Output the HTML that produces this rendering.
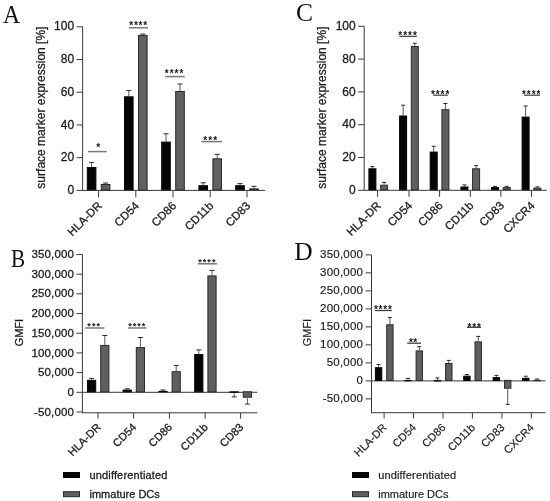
<!DOCTYPE html>
<html><head><meta charset="utf-8"><title>Figure</title>
<style>
html,body{margin:0;padding:0;background:#fff;}
body{width:550px;height:501px;overflow:hidden;}
svg{display:block;}
</style></head>
<body>
<svg width="550" height="501" viewBox="0 0 550 501">
<rect width="550" height="501" fill="#fff"/>
<line x1="82.6" y1="26.8" x2="82.6" y2="190.9" stroke="#3a3a3a" stroke-width="1"/>
<line x1="76.6" y1="190.4" x2="82.6" y2="190.4" stroke="#3a3a3a" stroke-width="1"/>
<text x="74.1" y="194" font-family='"Liberation Sans", Arial, sans-serif' font-size="12" text-anchor="end" fill="#1e1e1e" stroke="#1e1e1e" stroke-width="0.3">0</text>
<line x1="76.6" y1="157.68" x2="82.6" y2="157.68" stroke="#3a3a3a" stroke-width="1"/>
<text x="74.1" y="161.28" font-family='"Liberation Sans", Arial, sans-serif' font-size="12" text-anchor="end" fill="#1e1e1e" stroke="#1e1e1e" stroke-width="0.3">20</text>
<line x1="76.6" y1="124.96" x2="82.6" y2="124.96" stroke="#3a3a3a" stroke-width="1"/>
<text x="74.1" y="128.56" font-family='"Liberation Sans", Arial, sans-serif' font-size="12" text-anchor="end" fill="#1e1e1e" stroke="#1e1e1e" stroke-width="0.3">40</text>
<line x1="76.6" y1="92.24" x2="82.6" y2="92.24" stroke="#3a3a3a" stroke-width="1"/>
<text x="74.1" y="95.84" font-family='"Liberation Sans", Arial, sans-serif' font-size="12" text-anchor="end" fill="#1e1e1e" stroke="#1e1e1e" stroke-width="0.3">60</text>
<line x1="76.6" y1="59.52" x2="82.6" y2="59.52" stroke="#3a3a3a" stroke-width="1"/>
<text x="74.1" y="63.12" font-family='"Liberation Sans", Arial, sans-serif' font-size="12" text-anchor="end" fill="#1e1e1e" stroke="#1e1e1e" stroke-width="0.3">80</text>
<line x1="76.6" y1="26.8" x2="82.6" y2="26.8" stroke="#3a3a3a" stroke-width="1"/>
<text x="74.1" y="30.4" font-family='"Liberation Sans", Arial, sans-serif' font-size="12" text-anchor="end" fill="#1e1e1e" stroke="#1e1e1e" stroke-width="0.3">100</text>
<line x1="82.6" y1="190.4" x2="265" y2="190.4" stroke="#3a3a3a" stroke-width="1"/>
<line x1="98.6" y1="190.4" x2="98.6" y2="197.4" stroke="#3a3a3a" stroke-width="1"/>
<text x="102.6" y="206.4" font-family='"Liberation Sans", Arial, sans-serif' font-size="11.5" text-anchor="end" fill="#1e1e1e" stroke="#1e1e1e" stroke-width="0.3" transform="rotate(-45 102.6 206.4)">HLA-DR</text>
<line x1="135.8" y1="190.4" x2="135.8" y2="197.4" stroke="#3a3a3a" stroke-width="1"/>
<text x="139.8" y="206.4" font-family='"Liberation Sans", Arial, sans-serif' font-size="11.5" text-anchor="end" fill="#1e1e1e" stroke="#1e1e1e" stroke-width="0.3" transform="rotate(-45 139.8 206.4)">CD54</text>
<line x1="173" y1="190.4" x2="173" y2="197.4" stroke="#3a3a3a" stroke-width="1"/>
<text x="177" y="206.4" font-family='"Liberation Sans", Arial, sans-serif' font-size="11.5" text-anchor="end" fill="#1e1e1e" stroke="#1e1e1e" stroke-width="0.3" transform="rotate(-45 177 206.4)">CD86</text>
<line x1="210.2" y1="190.4" x2="210.2" y2="197.4" stroke="#3a3a3a" stroke-width="1"/>
<text x="214.2" y="206.4" font-family='"Liberation Sans", Arial, sans-serif' font-size="11.5" text-anchor="end" fill="#1e1e1e" stroke="#1e1e1e" stroke-width="0.3" transform="rotate(-45 214.2 206.4)">CD11b</text>
<line x1="247" y1="190.4" x2="247" y2="197.4" stroke="#3a3a3a" stroke-width="1"/>
<text x="251" y="206.4" font-family='"Liberation Sans", Arial, sans-serif' font-size="11.5" text-anchor="end" fill="#1e1e1e" stroke="#1e1e1e" stroke-width="0.3" transform="rotate(-45 251 206.4)">CD83</text>
<line x1="91.6" y1="167" x2="91.6" y2="162.4" stroke="#5a5a5a" stroke-width="1"/>
<line x1="89.1" y1="162.4" x2="94.1" y2="162.4" stroke="#2a2a2a" stroke-width="1"/>
<rect x="87.3" y="167.5" width="8.6" height="22.4" fill="#050505" stroke="#050505" stroke-width="1"/>
<line x1="105.6" y1="184" x2="105.6" y2="183" stroke="#5a5a5a" stroke-width="1"/>
<line x1="103.1" y1="183" x2="108.1" y2="183" stroke="#2a2a2a" stroke-width="1"/>
<rect x="101.3" y="184.5" width="8.6" height="5.4" fill="#606060" stroke="#2a2a2a" stroke-width="1"/>
<line x1="128.8" y1="96.3" x2="128.8" y2="90.4" stroke="#5a5a5a" stroke-width="1"/>
<line x1="126.3" y1="90.4" x2="131.3" y2="90.4" stroke="#2a2a2a" stroke-width="1"/>
<rect x="124.5" y="96.8" width="8.6" height="93.1" fill="#050505" stroke="#050505" stroke-width="1"/>
<line x1="142.8" y1="34.9" x2="142.8" y2="34" stroke="#5a5a5a" stroke-width="1"/>
<line x1="140.3" y1="34" x2="145.3" y2="34" stroke="#2a2a2a" stroke-width="1"/>
<rect x="138.5" y="35.4" width="8.6" height="154.5" fill="#606060" stroke="#2a2a2a" stroke-width="1"/>
<line x1="166" y1="141.6" x2="166" y2="133.8" stroke="#5a5a5a" stroke-width="1"/>
<line x1="163.5" y1="133.8" x2="168.5" y2="133.8" stroke="#2a2a2a" stroke-width="1"/>
<rect x="161.7" y="142.1" width="8.6" height="47.8" fill="#050505" stroke="#050505" stroke-width="1"/>
<line x1="180" y1="91" x2="180" y2="84" stroke="#5a5a5a" stroke-width="1"/>
<line x1="177.5" y1="84" x2="182.5" y2="84" stroke="#2a2a2a" stroke-width="1"/>
<rect x="175.7" y="91.5" width="8.6" height="98.4" fill="#606060" stroke="#2a2a2a" stroke-width="1"/>
<line x1="203.2" y1="185.2" x2="203.2" y2="182.8" stroke="#5a5a5a" stroke-width="1"/>
<line x1="200.7" y1="182.8" x2="205.7" y2="182.8" stroke="#2a2a2a" stroke-width="1"/>
<rect x="198.9" y="185.7" width="8.6" height="4.2" fill="#050505" stroke="#050505" stroke-width="1"/>
<line x1="217.2" y1="158.3" x2="217.2" y2="154.3" stroke="#5a5a5a" stroke-width="1"/>
<line x1="214.7" y1="154.3" x2="219.7" y2="154.3" stroke="#2a2a2a" stroke-width="1"/>
<rect x="212.9" y="158.8" width="8.6" height="31.1" fill="#606060" stroke="#2a2a2a" stroke-width="1"/>
<line x1="240" y1="185.2" x2="240" y2="183.6" stroke="#5a5a5a" stroke-width="1"/>
<line x1="237.5" y1="183.6" x2="242.5" y2="183.6" stroke="#2a2a2a" stroke-width="1"/>
<rect x="235.7" y="185.7" width="8.6" height="4.2" fill="#050505" stroke="#050505" stroke-width="1"/>
<line x1="254" y1="188.4" x2="254" y2="186.3" stroke="#5a5a5a" stroke-width="1"/>
<line x1="251.5" y1="186.3" x2="256.5" y2="186.3" stroke="#2a2a2a" stroke-width="1"/>
<rect x="249.7" y="188.9" width="8.6" height="1" fill="#606060" stroke="#2a2a2a" stroke-width="1"/>
<line x1="88" y1="151.6" x2="106.8" y2="151.6" stroke="#7a7a7a" stroke-width="1.5"/>
<text x="98.15" y="151.3" font-family='"Liberation Sans", Arial, sans-serif' font-weight="bold" font-size="10" text-anchor="middle" fill="#141414">*</text>
<line x1="129" y1="27.8" x2="148" y2="27.8" stroke="#7a7a7a" stroke-width="1.5"/>
<text x="131.19 135.86 140.53 145.2" y="28.6" font-family='"Liberation Sans", Arial, sans-serif' font-weight="bold" font-size="10" text-anchor="middle" fill="#141414">****</text>
<line x1="165.2" y1="76.6" x2="184.8" y2="76.6" stroke="#7a7a7a" stroke-width="1.5"/>
<text x="166.79 171.66 176.53 181.41" y="77.4" font-family='"Liberation Sans", Arial, sans-serif' font-weight="bold" font-size="10" text-anchor="middle" fill="#141414">****</text>
<line x1="201.5" y1="141.6" x2="221.9" y2="141.6" stroke="#7a7a7a" stroke-width="1.5"/>
<text x="205.3 210.3 215.3" y="144.1" font-family='"Liberation Sans", Arial, sans-serif' font-weight="bold" font-size="10" text-anchor="middle" fill="#141414">***</text>
<text x="44.9" y="107.6" font-family='"Liberation Sans", Arial, sans-serif' font-size="12" text-anchor="middle" fill="#1e1e1e" stroke="#1e1e1e" stroke-width="0.3" transform="rotate(-90 44.9 107.6)">surface marker expression [%]</text>
<text transform="translate(2.9 22.9) scale(0.93 1)" x="0" y="0" font-family='"Liberation Serif", "Times New Roman", serif' font-size="25.5" fill="#111">A</text>
<line x1="82.4" y1="254.47" x2="82.4" y2="413.3" stroke="#3a3a3a" stroke-width="1"/>
<line x1="76.4" y1="411.99" x2="82.4" y2="411.99" stroke="#3a3a3a" stroke-width="1"/>
<text x="74.03" y="415.59" font-family='"Liberation Sans", Arial, sans-serif' font-size="11.5" text-anchor="end" fill="#1e1e1e" stroke="#1e1e1e" stroke-width="0.3" letter-spacing="0.13">-50,000</text>
<line x1="76.4" y1="392.3" x2="82.4" y2="392.3" stroke="#3a3a3a" stroke-width="1"/>
<text x="74.03" y="395.9" font-family='"Liberation Sans", Arial, sans-serif' font-size="11.5" text-anchor="end" fill="#1e1e1e" stroke="#1e1e1e" stroke-width="0.3" letter-spacing="0.13">0</text>
<line x1="76.4" y1="372.61" x2="82.4" y2="372.61" stroke="#3a3a3a" stroke-width="1"/>
<text x="74.03" y="376.21" font-family='"Liberation Sans", Arial, sans-serif' font-size="11.5" text-anchor="end" fill="#1e1e1e" stroke="#1e1e1e" stroke-width="0.3" letter-spacing="0.13">50,000</text>
<line x1="76.4" y1="352.92" x2="82.4" y2="352.92" stroke="#3a3a3a" stroke-width="1"/>
<text x="74.03" y="356.52" font-family='"Liberation Sans", Arial, sans-serif' font-size="11.5" text-anchor="end" fill="#1e1e1e" stroke="#1e1e1e" stroke-width="0.3" letter-spacing="0.13">100,000</text>
<line x1="76.4" y1="333.23" x2="82.4" y2="333.23" stroke="#3a3a3a" stroke-width="1"/>
<text x="74.03" y="336.83" font-family='"Liberation Sans", Arial, sans-serif' font-size="11.5" text-anchor="end" fill="#1e1e1e" stroke="#1e1e1e" stroke-width="0.3" letter-spacing="0.13">150,000</text>
<line x1="76.4" y1="313.54" x2="82.4" y2="313.54" stroke="#3a3a3a" stroke-width="1"/>
<text x="74.03" y="317.14" font-family='"Liberation Sans", Arial, sans-serif' font-size="11.5" text-anchor="end" fill="#1e1e1e" stroke="#1e1e1e" stroke-width="0.3" letter-spacing="0.13">200,000</text>
<line x1="76.4" y1="293.85" x2="82.4" y2="293.85" stroke="#3a3a3a" stroke-width="1"/>
<text x="74.03" y="297.45" font-family='"Liberation Sans", Arial, sans-serif' font-size="11.5" text-anchor="end" fill="#1e1e1e" stroke="#1e1e1e" stroke-width="0.3" letter-spacing="0.13">250,000</text>
<line x1="76.4" y1="274.16" x2="82.4" y2="274.16" stroke="#3a3a3a" stroke-width="1"/>
<text x="74.03" y="277.76" font-family='"Liberation Sans", Arial, sans-serif' font-size="11.5" text-anchor="end" fill="#1e1e1e" stroke="#1e1e1e" stroke-width="0.3" letter-spacing="0.13">300,000</text>
<line x1="76.4" y1="254.47" x2="82.4" y2="254.47" stroke="#3a3a3a" stroke-width="1"/>
<text x="74.03" y="258.07" font-family='"Liberation Sans", Arial, sans-serif' font-size="11.5" text-anchor="end" fill="#1e1e1e" stroke="#1e1e1e" stroke-width="0.3" letter-spacing="0.13">350,000</text>
<line x1="82.4" y1="392.3" x2="257.2" y2="392.3" stroke="#3a3a3a" stroke-width="1"/>
<line x1="82.4" y1="412.8" x2="257.2" y2="412.8" stroke="#3a3a3a" stroke-width="1"/>
<line x1="98" y1="412.8" x2="98" y2="418.6" stroke="#3a3a3a" stroke-width="1"/>
<text x="101.5" y="427.8" font-family='"Liberation Sans", Arial, sans-serif' font-size="11" text-anchor="end" fill="#1e1e1e" stroke="#1e1e1e" stroke-width="0.3" transform="rotate(-45 101.5 427.8)">HLA-DR</text>
<line x1="133.6" y1="412.8" x2="133.6" y2="418.6" stroke="#3a3a3a" stroke-width="1"/>
<text x="137.1" y="427.8" font-family='"Liberation Sans", Arial, sans-serif' font-size="11" text-anchor="end" fill="#1e1e1e" stroke="#1e1e1e" stroke-width="0.3" transform="rotate(-45 137.1 427.8)">CD54</text>
<line x1="169.4" y1="412.8" x2="169.4" y2="418.6" stroke="#3a3a3a" stroke-width="1"/>
<text x="172.9" y="427.8" font-family='"Liberation Sans", Arial, sans-serif' font-size="11" text-anchor="end" fill="#1e1e1e" stroke="#1e1e1e" stroke-width="0.3" transform="rotate(-45 172.9 427.8)">CD86</text>
<line x1="205.2" y1="412.8" x2="205.2" y2="418.6" stroke="#3a3a3a" stroke-width="1"/>
<text x="208.7" y="427.8" font-family='"Liberation Sans", Arial, sans-serif' font-size="11" text-anchor="end" fill="#1e1e1e" stroke="#1e1e1e" stroke-width="0.3" transform="rotate(-45 208.7 427.8)">CD11b</text>
<line x1="240.6" y1="412.8" x2="240.6" y2="418.6" stroke="#3a3a3a" stroke-width="1"/>
<text x="244.1" y="427.8" font-family='"Liberation Sans", Arial, sans-serif' font-size="11" text-anchor="end" fill="#1e1e1e" stroke="#1e1e1e" stroke-width="0.3" transform="rotate(-45 244.1 427.8)">CD83</text>
<line x1="91.6" y1="379.8" x2="91.6" y2="378.4" stroke="#5a5a5a" stroke-width="1"/>
<line x1="89.1" y1="378.4" x2="94.1" y2="378.4" stroke="#2a2a2a" stroke-width="1"/>
<rect x="87.5" y="380.3" width="8.2" height="11.5" fill="#050505" stroke="#050505" stroke-width="1"/>
<line x1="104.8" y1="344.9" x2="104.8" y2="335.5" stroke="#5a5a5a" stroke-width="1"/>
<line x1="102.3" y1="335.5" x2="107.3" y2="335.5" stroke="#2a2a2a" stroke-width="1"/>
<rect x="100.7" y="345.4" width="8.2" height="46.4" fill="#606060" stroke="#2a2a2a" stroke-width="1"/>
<line x1="127.2" y1="389.6" x2="127.2" y2="388.8" stroke="#5a5a5a" stroke-width="1"/>
<line x1="124.7" y1="388.8" x2="129.7" y2="388.8" stroke="#2a2a2a" stroke-width="1"/>
<rect x="123.1" y="390.1" width="8.2" height="1.7" fill="#050505" stroke="#050505" stroke-width="1"/>
<line x1="140.4" y1="347.1" x2="140.4" y2="337.5" stroke="#5a5a5a" stroke-width="1"/>
<line x1="137.9" y1="337.5" x2="142.9" y2="337.5" stroke="#2a2a2a" stroke-width="1"/>
<rect x="136.3" y="347.6" width="8.2" height="44.2" fill="#606060" stroke="#2a2a2a" stroke-width="1"/>
<line x1="163" y1="390.9" x2="163" y2="390" stroke="#5a5a5a" stroke-width="1"/>
<line x1="160.5" y1="390" x2="165.5" y2="390" stroke="#2a2a2a" stroke-width="1"/>
<rect x="158.9" y="391.4" width="8.2" height="0.4" fill="#050505" stroke="#050505" stroke-width="1"/>
<line x1="176.2" y1="371.2" x2="176.2" y2="365.4" stroke="#5a5a5a" stroke-width="1"/>
<line x1="173.7" y1="365.4" x2="178.7" y2="365.4" stroke="#2a2a2a" stroke-width="1"/>
<rect x="172.1" y="371.7" width="8.2" height="20.1" fill="#606060" stroke="#2a2a2a" stroke-width="1"/>
<line x1="198.8" y1="354.1" x2="198.8" y2="349.9" stroke="#5a5a5a" stroke-width="1"/>
<line x1="196.3" y1="349.9" x2="201.3" y2="349.9" stroke="#2a2a2a" stroke-width="1"/>
<rect x="194.7" y="354.6" width="8.2" height="37.2" fill="#050505" stroke="#050505" stroke-width="1"/>
<line x1="212" y1="275.4" x2="212" y2="270.4" stroke="#5a5a5a" stroke-width="1"/>
<line x1="209.5" y1="270.4" x2="214.5" y2="270.4" stroke="#2a2a2a" stroke-width="1"/>
<rect x="207.9" y="275.9" width="8.2" height="115.9" fill="#606060" stroke="#2a2a2a" stroke-width="1"/>
<line x1="234.2" y1="393.3" x2="234.2" y2="396.9" stroke="#5a5a5a" stroke-width="1"/>
<line x1="231.7" y1="396.9" x2="236.7" y2="396.9" stroke="#2a2a2a" stroke-width="1"/>
<rect x="230.1" y="391.8" width="8.2" height="0.5" fill="#050505" stroke="#050505" stroke-width="1"/>
<line x1="247.4" y1="398.2" x2="247.4" y2="404.1" stroke="#5a5a5a" stroke-width="1"/>
<line x1="244.9" y1="404.1" x2="249.9" y2="404.1" stroke="#2a2a2a" stroke-width="1"/>
<rect x="243.3" y="391.8" width="8.2" height="5.4" fill="#606060" stroke="#2a2a2a" stroke-width="1"/>
<line x1="85.2" y1="328" x2="104.4" y2="328" stroke="#7a7a7a" stroke-width="1.5"/>
<text x="89.1 93.65 98.2" y="329.44" font-family='"Liberation Sans", Arial, sans-serif' font-weight="bold" font-size="9" text-anchor="middle" fill="#141414">***</text>
<line x1="128.1" y1="328" x2="146.4" y2="328" stroke="#7a7a7a" stroke-width="1.5"/>
<text x="129.9 134.47 139.03 143.6" y="329.34" font-family='"Liberation Sans", Arial, sans-serif' font-weight="bold" font-size="9" text-anchor="middle" fill="#141414">****</text>
<line x1="198" y1="263.8" x2="217.1" y2="263.8" stroke="#7a7a7a" stroke-width="1.5"/>
<text x="200 204.56 209.13 213.7" y="265.44" font-family='"Liberation Sans", Arial, sans-serif' font-weight="bold" font-size="9" text-anchor="middle" fill="#141414">****</text>
<text x="22.8" y="332.6" font-family='"Liberation Sans", Arial, sans-serif' font-size="11" text-anchor="middle" fill="#1e1e1e" stroke="#1e1e1e" stroke-width="0.3" transform="rotate(-90 22.8 332.6)">GMFI</text>
<text transform="translate(11 266.6) scale(0.85 1)" x="0" y="0" font-family='"Liberation Serif", "Times New Roman", serif' font-size="25" fill="#111">B</text>
<rect x="63" y="472" width="17" height="6" fill="#050505"/>
<rect x="63.5" y="491.7" width="16" height="5" fill="#606060" stroke="#2a2a2a" stroke-width="1"/>
<text x="89.5" y="478.5" font-family='"Liberation Sans", Arial, sans-serif' font-size="11" text-anchor="start" fill="#1e1e1e" stroke="#1e1e1e" stroke-width="0.3" letter-spacing="0.15">undifferentiated</text>
<text x="89.5" y="497.7" font-family='"Liberation Sans", Arial, sans-serif' font-size="11" text-anchor="start" fill="#1e1e1e" stroke="#1e1e1e" stroke-width="0.3">immature DCs</text>
<line x1="364.2" y1="26.3" x2="364.2" y2="190.8" stroke="#3a3a3a" stroke-width="1"/>
<line x1="358.2" y1="190.3" x2="364.2" y2="190.3" stroke="#3a3a3a" stroke-width="1"/>
<text x="355.7" y="193.9" font-family='"Liberation Sans", Arial, sans-serif' font-size="12" text-anchor="end" fill="#1e1e1e" stroke="#1e1e1e" stroke-width="0.3">0</text>
<line x1="358.2" y1="157.5" x2="364.2" y2="157.5" stroke="#3a3a3a" stroke-width="1"/>
<text x="355.7" y="161.1" font-family='"Liberation Sans", Arial, sans-serif' font-size="12" text-anchor="end" fill="#1e1e1e" stroke="#1e1e1e" stroke-width="0.3">20</text>
<line x1="358.2" y1="124.7" x2="364.2" y2="124.7" stroke="#3a3a3a" stroke-width="1"/>
<text x="355.7" y="128.3" font-family='"Liberation Sans", Arial, sans-serif' font-size="12" text-anchor="end" fill="#1e1e1e" stroke="#1e1e1e" stroke-width="0.3">40</text>
<line x1="358.2" y1="91.9" x2="364.2" y2="91.9" stroke="#3a3a3a" stroke-width="1"/>
<text x="355.7" y="95.5" font-family='"Liberation Sans", Arial, sans-serif' font-size="12" text-anchor="end" fill="#1e1e1e" stroke="#1e1e1e" stroke-width="0.3">60</text>
<line x1="358.2" y1="59.1" x2="364.2" y2="59.1" stroke="#3a3a3a" stroke-width="1"/>
<text x="355.7" y="62.7" font-family='"Liberation Sans", Arial, sans-serif' font-size="12" text-anchor="end" fill="#1e1e1e" stroke="#1e1e1e" stroke-width="0.3">80</text>
<line x1="358.2" y1="26.3" x2="364.2" y2="26.3" stroke="#3a3a3a" stroke-width="1"/>
<text x="355.7" y="29.9" font-family='"Liberation Sans", Arial, sans-serif' font-size="12" text-anchor="end" fill="#1e1e1e" stroke="#1e1e1e" stroke-width="0.3">100</text>
<line x1="364.2" y1="190.3" x2="546.7" y2="190.3" stroke="#3a3a3a" stroke-width="1"/>
<line x1="377.6" y1="190.3" x2="377.6" y2="196.8" stroke="#3a3a3a" stroke-width="1"/>
<text x="381.6" y="206.3" font-family='"Liberation Sans", Arial, sans-serif' font-size="11.5" text-anchor="end" fill="#1e1e1e" stroke="#1e1e1e" stroke-width="0.3" transform="rotate(-45 381.6 206.3)">HLA-DR</text>
<line x1="409" y1="190.3" x2="409" y2="196.8" stroke="#3a3a3a" stroke-width="1"/>
<text x="413" y="206.3" font-family='"Liberation Sans", Arial, sans-serif' font-size="11.5" text-anchor="end" fill="#1e1e1e" stroke="#1e1e1e" stroke-width="0.3" transform="rotate(-45 413 206.3)">CD54</text>
<line x1="439.6" y1="190.3" x2="439.6" y2="196.8" stroke="#3a3a3a" stroke-width="1"/>
<text x="443.6" y="206.3" font-family='"Liberation Sans", Arial, sans-serif' font-size="11.5" text-anchor="end" fill="#1e1e1e" stroke="#1e1e1e" stroke-width="0.3" transform="rotate(-45 443.6 206.3)">CD86</text>
<line x1="470.3" y1="190.3" x2="470.3" y2="196.8" stroke="#3a3a3a" stroke-width="1"/>
<text x="474.3" y="206.3" font-family='"Liberation Sans", Arial, sans-serif' font-size="11.5" text-anchor="end" fill="#1e1e1e" stroke="#1e1e1e" stroke-width="0.3" transform="rotate(-45 474.3 206.3)">CD11b</text>
<line x1="500.9" y1="190.3" x2="500.9" y2="196.8" stroke="#3a3a3a" stroke-width="1"/>
<text x="504.9" y="206.3" font-family='"Liberation Sans", Arial, sans-serif' font-size="11.5" text-anchor="end" fill="#1e1e1e" stroke="#1e1e1e" stroke-width="0.3" transform="rotate(-45 504.9 206.3)">CD83</text>
<line x1="531.5" y1="190.3" x2="531.5" y2="196.8" stroke="#3a3a3a" stroke-width="1"/>
<text x="535.5" y="206.3" font-family='"Liberation Sans", Arial, sans-serif' font-size="11.5" text-anchor="end" fill="#1e1e1e" stroke="#1e1e1e" stroke-width="0.3" transform="rotate(-45 535.5 206.3)">CXCR4</text>
<line x1="372.4" y1="168.3" x2="372.4" y2="166.6" stroke="#5a5a5a" stroke-width="1"/>
<line x1="370.4" y1="166.6" x2="374.4" y2="166.6" stroke="#2a2a2a" stroke-width="1"/>
<rect x="368.9" y="168.8" width="7" height="21" fill="#050505" stroke="#050505" stroke-width="1"/>
<line x1="384.1" y1="184.7" x2="384.1" y2="182.4" stroke="#5a5a5a" stroke-width="1"/>
<line x1="382.1" y1="182.4" x2="386.1" y2="182.4" stroke="#2a2a2a" stroke-width="1"/>
<rect x="380.6" y="185.2" width="7" height="4.6" fill="#606060" stroke="#2a2a2a" stroke-width="1"/>
<line x1="403.1" y1="115.5" x2="403.1" y2="105.2" stroke="#5a5a5a" stroke-width="1"/>
<line x1="401.1" y1="105.2" x2="405.1" y2="105.2" stroke="#2a2a2a" stroke-width="1"/>
<rect x="399.6" y="116" width="7" height="73.8" fill="#050505" stroke="#050505" stroke-width="1"/>
<line x1="414.8" y1="46" x2="414.8" y2="43.3" stroke="#5a5a5a" stroke-width="1"/>
<line x1="412.8" y1="43.3" x2="416.8" y2="43.3" stroke="#2a2a2a" stroke-width="1"/>
<rect x="411.3" y="46.5" width="7" height="143.3" fill="#606060" stroke="#2a2a2a" stroke-width="1"/>
<line x1="433.7" y1="151.6" x2="433.7" y2="146.3" stroke="#5a5a5a" stroke-width="1"/>
<line x1="431.7" y1="146.3" x2="435.7" y2="146.3" stroke="#2a2a2a" stroke-width="1"/>
<rect x="430.2" y="152.1" width="7" height="37.7" fill="#050505" stroke="#050505" stroke-width="1"/>
<line x1="445.4" y1="109.2" x2="445.4" y2="103.5" stroke="#5a5a5a" stroke-width="1"/>
<line x1="443.4" y1="103.5" x2="447.4" y2="103.5" stroke="#2a2a2a" stroke-width="1"/>
<rect x="441.9" y="109.7" width="7" height="80.1" fill="#606060" stroke="#2a2a2a" stroke-width="1"/>
<line x1="464.4" y1="186.5" x2="464.4" y2="184.9" stroke="#5a5a5a" stroke-width="1"/>
<line x1="462.4" y1="184.9" x2="466.4" y2="184.9" stroke="#2a2a2a" stroke-width="1"/>
<rect x="460.9" y="187" width="7" height="2.8" fill="#050505" stroke="#050505" stroke-width="1"/>
<line x1="476.1" y1="168.3" x2="476.1" y2="165.6" stroke="#5a5a5a" stroke-width="1"/>
<line x1="474.1" y1="165.6" x2="478.1" y2="165.6" stroke="#2a2a2a" stroke-width="1"/>
<rect x="472.6" y="168.8" width="7" height="21" fill="#606060" stroke="#2a2a2a" stroke-width="1"/>
<line x1="495" y1="187.1" x2="495" y2="186.4" stroke="#5a5a5a" stroke-width="1"/>
<line x1="493" y1="186.4" x2="497" y2="186.4" stroke="#2a2a2a" stroke-width="1"/>
<rect x="491.5" y="187.6" width="7" height="2.2" fill="#050505" stroke="#050505" stroke-width="1"/>
<line x1="506.7" y1="187.1" x2="506.7" y2="186.3" stroke="#5a5a5a" stroke-width="1"/>
<line x1="504.7" y1="186.3" x2="508.7" y2="186.3" stroke="#2a2a2a" stroke-width="1"/>
<rect x="503.2" y="187.6" width="7" height="2.2" fill="#606060" stroke="#2a2a2a" stroke-width="1"/>
<line x1="525.6" y1="116.6" x2="525.6" y2="106" stroke="#5a5a5a" stroke-width="1"/>
<line x1="523.6" y1="106" x2="527.6" y2="106" stroke="#2a2a2a" stroke-width="1"/>
<rect x="522.1" y="117.1" width="7" height="72.7" fill="#050505" stroke="#050505" stroke-width="1"/>
<line x1="537.3" y1="187.6" x2="537.3" y2="186.8" stroke="#5a5a5a" stroke-width="1"/>
<line x1="535.3" y1="186.8" x2="539.3" y2="186.8" stroke="#2a2a2a" stroke-width="1"/>
<rect x="533.8" y="188.1" width="7" height="1.7" fill="#606060" stroke="#2a2a2a" stroke-width="1"/>
<line x1="399.3" y1="36.4" x2="416.9" y2="36.4" stroke="#4a4a4a" stroke-width="1.3"/>
<text x="400.3 405.17 410.04 414.91" y="39" font-family='"Liberation Sans", Arial, sans-serif' font-weight="bold" font-size="10" text-anchor="middle" fill="#141414">****</text>
<line x1="433.1" y1="95.2" x2="447.9" y2="95.2" stroke="#4a4a4a" stroke-width="1.3"/>
<text x="432.9 437.73 442.56 447.39" y="98" font-family='"Liberation Sans", Arial, sans-serif' font-weight="bold" font-size="10" text-anchor="middle" fill="#141414">****</text>
<line x1="524" y1="95.2" x2="540" y2="95.2" stroke="#4a4a4a" stroke-width="1.3"/>
<text x="524 528.8 533.6 538.4" y="98" font-family='"Liberation Sans", Arial, sans-serif' font-weight="bold" font-size="10" text-anchor="middle" fill="#141414">****</text>
<text x="326" y="107.6" font-family='"Liberation Sans", Arial, sans-serif' font-size="12" text-anchor="middle" fill="#1e1e1e" stroke="#1e1e1e" stroke-width="0.3" transform="rotate(-90 326 107.6)">surface marker expression [%]</text>
<text x="296" y="20.6" font-family='"Liberation Serif", "Times New Roman", serif' font-size="25.5" text-anchor="start" fill="#111">C</text>
<line x1="371.5" y1="254.9" x2="371.5" y2="413.2" stroke="#3a3a3a" stroke-width="1"/>
<line x1="365.5" y1="398.9" x2="371.5" y2="398.9" stroke="#3a3a3a" stroke-width="1"/>
<text x="363.22" y="402.3" font-family='"Liberation Sans", Arial, sans-serif' font-size="11.5" text-anchor="end" fill="#1e1e1e" stroke="#1e1e1e" stroke-width="0.18" letter-spacing="0.22">-50,000</text>
<line x1="365.5" y1="380.9" x2="371.5" y2="380.9" stroke="#3a3a3a" stroke-width="1"/>
<text x="363.22" y="384.3" font-family='"Liberation Sans", Arial, sans-serif' font-size="11.5" text-anchor="end" fill="#1e1e1e" stroke="#1e1e1e" stroke-width="0.18" letter-spacing="0.22">0</text>
<line x1="365.5" y1="362.9" x2="371.5" y2="362.9" stroke="#3a3a3a" stroke-width="1"/>
<text x="363.22" y="366.3" font-family='"Liberation Sans", Arial, sans-serif' font-size="11.5" text-anchor="end" fill="#1e1e1e" stroke="#1e1e1e" stroke-width="0.18" letter-spacing="0.22">50,000</text>
<line x1="365.5" y1="344.9" x2="371.5" y2="344.9" stroke="#3a3a3a" stroke-width="1"/>
<text x="363.22" y="348.3" font-family='"Liberation Sans", Arial, sans-serif' font-size="11.5" text-anchor="end" fill="#1e1e1e" stroke="#1e1e1e" stroke-width="0.18" letter-spacing="0.22">100,000</text>
<line x1="365.5" y1="326.9" x2="371.5" y2="326.9" stroke="#3a3a3a" stroke-width="1"/>
<text x="363.22" y="330.3" font-family='"Liberation Sans", Arial, sans-serif' font-size="11.5" text-anchor="end" fill="#1e1e1e" stroke="#1e1e1e" stroke-width="0.18" letter-spacing="0.22">150,000</text>
<line x1="365.5" y1="308.9" x2="371.5" y2="308.9" stroke="#3a3a3a" stroke-width="1"/>
<text x="363.22" y="312.3" font-family='"Liberation Sans", Arial, sans-serif' font-size="11.5" text-anchor="end" fill="#1e1e1e" stroke="#1e1e1e" stroke-width="0.18" letter-spacing="0.22">200,000</text>
<line x1="365.5" y1="290.9" x2="371.5" y2="290.9" stroke="#3a3a3a" stroke-width="1"/>
<text x="363.22" y="294.3" font-family='"Liberation Sans", Arial, sans-serif' font-size="11.5" text-anchor="end" fill="#1e1e1e" stroke="#1e1e1e" stroke-width="0.18" letter-spacing="0.22">250,000</text>
<line x1="365.5" y1="272.9" x2="371.5" y2="272.9" stroke="#3a3a3a" stroke-width="1"/>
<text x="363.22" y="276.3" font-family='"Liberation Sans", Arial, sans-serif' font-size="11.5" text-anchor="end" fill="#1e1e1e" stroke="#1e1e1e" stroke-width="0.18" letter-spacing="0.22">300,000</text>
<line x1="365.5" y1="254.9" x2="371.5" y2="254.9" stroke="#3a3a3a" stroke-width="1"/>
<text x="363.22" y="258.3" font-family='"Liberation Sans", Arial, sans-serif' font-size="11.5" text-anchor="end" fill="#1e1e1e" stroke="#1e1e1e" stroke-width="0.18" letter-spacing="0.22">350,000</text>
<line x1="371.5" y1="380.9" x2="545.7" y2="380.9" stroke="#3a3a3a" stroke-width="1"/>
<line x1="371.5" y1="412.7" x2="545.7" y2="412.7" stroke="#3a3a3a" stroke-width="1"/>
<line x1="384.1" y1="412.7" x2="384.1" y2="418.5" stroke="#3a3a3a" stroke-width="1"/>
<text x="387.5" y="428.2" font-family='"Liberation Sans", Arial, sans-serif' font-size="11" text-anchor="end" fill="#1e1e1e" stroke="#1e1e1e" stroke-width="0.18" transform="rotate(-45 387.5 428.2)">HLA-DR</text>
<line x1="413.5" y1="412.7" x2="413.5" y2="418.5" stroke="#3a3a3a" stroke-width="1"/>
<text x="416.9" y="428.2" font-family='"Liberation Sans", Arial, sans-serif' font-size="11" text-anchor="end" fill="#1e1e1e" stroke="#1e1e1e" stroke-width="0.18" transform="rotate(-45 416.9 428.2)">CD54</text>
<line x1="443" y1="412.7" x2="443" y2="418.5" stroke="#3a3a3a" stroke-width="1"/>
<text x="446.4" y="428.2" font-family='"Liberation Sans", Arial, sans-serif' font-size="11" text-anchor="end" fill="#1e1e1e" stroke="#1e1e1e" stroke-width="0.18" transform="rotate(-45 446.4 428.2)">CD86</text>
<line x1="472.4" y1="412.7" x2="472.4" y2="418.5" stroke="#3a3a3a" stroke-width="1"/>
<text x="475.8" y="428.2" font-family='"Liberation Sans", Arial, sans-serif' font-size="11" text-anchor="end" fill="#1e1e1e" stroke="#1e1e1e" stroke-width="0.18" transform="rotate(-45 475.8 428.2)">CD11b</text>
<line x1="501.9" y1="412.7" x2="501.9" y2="418.5" stroke="#3a3a3a" stroke-width="1"/>
<text x="505.3" y="428.2" font-family='"Liberation Sans", Arial, sans-serif' font-size="11" text-anchor="end" fill="#1e1e1e" stroke="#1e1e1e" stroke-width="0.18" transform="rotate(-45 505.3 428.2)">CD83</text>
<line x1="531.3" y1="412.7" x2="531.3" y2="418.5" stroke="#3a3a3a" stroke-width="1"/>
<text x="534.7" y="428.2" font-family='"Liberation Sans", Arial, sans-serif' font-size="11" text-anchor="end" fill="#1e1e1e" stroke="#1e1e1e" stroke-width="0.18" transform="rotate(-45 534.7 428.2)">CXCR4</text>
<line x1="378.6" y1="367.2" x2="378.6" y2="364.5" stroke="#5a5a5a" stroke-width="1"/>
<line x1="376.6" y1="364.5" x2="380.6" y2="364.5" stroke="#2a2a2a" stroke-width="1"/>
<rect x="375.4" y="367.7" width="6.4" height="12.7" fill="#050505" stroke="#050505" stroke-width="1"/>
<line x1="389.9" y1="324.3" x2="389.9" y2="317.5" stroke="#5a5a5a" stroke-width="1"/>
<line x1="387.9" y1="317.5" x2="391.9" y2="317.5" stroke="#2a2a2a" stroke-width="1"/>
<rect x="386.7" y="324.8" width="6.4" height="55.6" fill="#606060" stroke="#2a2a2a" stroke-width="1"/>
<line x1="408" y1="380" x2="408" y2="378.4" stroke="#5a5a5a" stroke-width="1"/>
<line x1="406" y1="378.4" x2="410" y2="378.4" stroke="#2a2a2a" stroke-width="1"/>
<rect x="404.8" y="380.5" width="6.4" height="0.3" fill="#050505" stroke="#050505" stroke-width="1"/>
<line x1="419.3" y1="350.4" x2="419.3" y2="346.7" stroke="#5a5a5a" stroke-width="1"/>
<line x1="417.3" y1="346.7" x2="421.3" y2="346.7" stroke="#2a2a2a" stroke-width="1"/>
<rect x="416.1" y="350.9" width="6.4" height="29.5" fill="#606060" stroke="#2a2a2a" stroke-width="1"/>
<line x1="437.5" y1="380.2" x2="437.5" y2="378" stroke="#5a5a5a" stroke-width="1"/>
<line x1="435.5" y1="378" x2="439.5" y2="378" stroke="#2a2a2a" stroke-width="1"/>
<rect x="434.3" y="380.7" width="6.4" height="0.3" fill="#050505" stroke="#050505" stroke-width="1"/>
<line x1="448.8" y1="363" x2="448.8" y2="360.4" stroke="#5a5a5a" stroke-width="1"/>
<line x1="446.8" y1="360.4" x2="450.8" y2="360.4" stroke="#2a2a2a" stroke-width="1"/>
<rect x="445.6" y="363.5" width="6.4" height="16.9" fill="#606060" stroke="#2a2a2a" stroke-width="1"/>
<line x1="466.9" y1="375.7" x2="466.9" y2="374.5" stroke="#5a5a5a" stroke-width="1"/>
<line x1="464.9" y1="374.5" x2="468.9" y2="374.5" stroke="#2a2a2a" stroke-width="1"/>
<rect x="463.7" y="376.2" width="6.4" height="4.2" fill="#050505" stroke="#050505" stroke-width="1"/>
<line x1="478.2" y1="341.4" x2="478.2" y2="336.4" stroke="#5a5a5a" stroke-width="1"/>
<line x1="476.2" y1="336.4" x2="480.2" y2="336.4" stroke="#2a2a2a" stroke-width="1"/>
<rect x="475" y="341.9" width="6.4" height="38.5" fill="#606060" stroke="#2a2a2a" stroke-width="1"/>
<line x1="496.4" y1="377.1" x2="496.4" y2="375.4" stroke="#5a5a5a" stroke-width="1"/>
<line x1="494.4" y1="375.4" x2="498.4" y2="375.4" stroke="#2a2a2a" stroke-width="1"/>
<rect x="493.2" y="377.6" width="6.4" height="2.8" fill="#050505" stroke="#050505" stroke-width="1"/>
<line x1="507.7" y1="389.2" x2="507.7" y2="404.4" stroke="#5a5a5a" stroke-width="1"/>
<line x1="505.7" y1="404.4" x2="509.7" y2="404.4" stroke="#2a2a2a" stroke-width="1"/>
<rect x="504.5" y="380.4" width="6.4" height="7.8" fill="#606060" stroke="#2a2a2a" stroke-width="1"/>
<line x1="525.8" y1="377.8" x2="525.8" y2="376.2" stroke="#5a5a5a" stroke-width="1"/>
<line x1="523.8" y1="376.2" x2="527.8" y2="376.2" stroke="#2a2a2a" stroke-width="1"/>
<rect x="522.6" y="378.3" width="6.4" height="2.1" fill="#050505" stroke="#050505" stroke-width="1"/>
<line x1="537.1" y1="379.8" x2="537.1" y2="379" stroke="#5a5a5a" stroke-width="1"/>
<line x1="535.1" y1="379" x2="539.1" y2="379" stroke="#2a2a2a" stroke-width="1"/>
<rect x="533.9" y="380.3" width="6.4" height="0.3" fill="#606060" stroke="#2a2a2a" stroke-width="1"/>
<line x1="374.8" y1="310.5" x2="391.9" y2="310.5" stroke="#404040" stroke-width="1.3"/>
<text x="375.89 380.56 385.23 389.9" y="312.6" font-family='"Liberation Sans", Arial, sans-serif' font-weight="bold" font-size="10" text-anchor="middle" fill="#141414">****</text>
<line x1="407.2" y1="343.2" x2="421" y2="343.2" stroke="#404040" stroke-width="1.3"/>
<text x="411 415.3" y="346.1" font-family='"Liberation Sans", Arial, sans-serif' font-weight="bold" font-size="10" text-anchor="middle" fill="#141414">**</text>
<line x1="467" y1="327.3" x2="481" y2="327.3" stroke="#404040" stroke-width="1.3"/>
<text x="469.4 474.2 479" y="330.9" font-family='"Liberation Sans", Arial, sans-serif' font-weight="bold" font-size="10" text-anchor="middle" fill="#141414">***</text>
<text x="311" y="332.6" font-family='"Liberation Sans", Arial, sans-serif' font-size="11" text-anchor="middle" fill="#1e1e1e" stroke="#1e1e1e" stroke-width="0.18" transform="rotate(-90 311 332.6)">GMFI</text>
<text x="294.3" y="260.3" font-family='"Liberation Serif", "Times New Roman", serif' font-size="25.5" text-anchor="start" fill="#111">D</text>
<rect x="352" y="472" width="17" height="6" fill="#050505"/>
<rect x="352.5" y="491.7" width="16" height="5" fill="#606060" stroke="#2a2a2a" stroke-width="1"/>
<text x="378.2" y="478.5" font-family='"Liberation Sans", Arial, sans-serif' font-size="11" text-anchor="start" fill="#1e1e1e" stroke="#1e1e1e" stroke-width="0.18" letter-spacing="0.15">undifferentiated</text>
<text x="378.2" y="497.7" font-family='"Liberation Sans", Arial, sans-serif' font-size="11" text-anchor="start" fill="#1e1e1e" stroke="#1e1e1e" stroke-width="0.18">immature DCs</text>
</svg>
</body></html>
